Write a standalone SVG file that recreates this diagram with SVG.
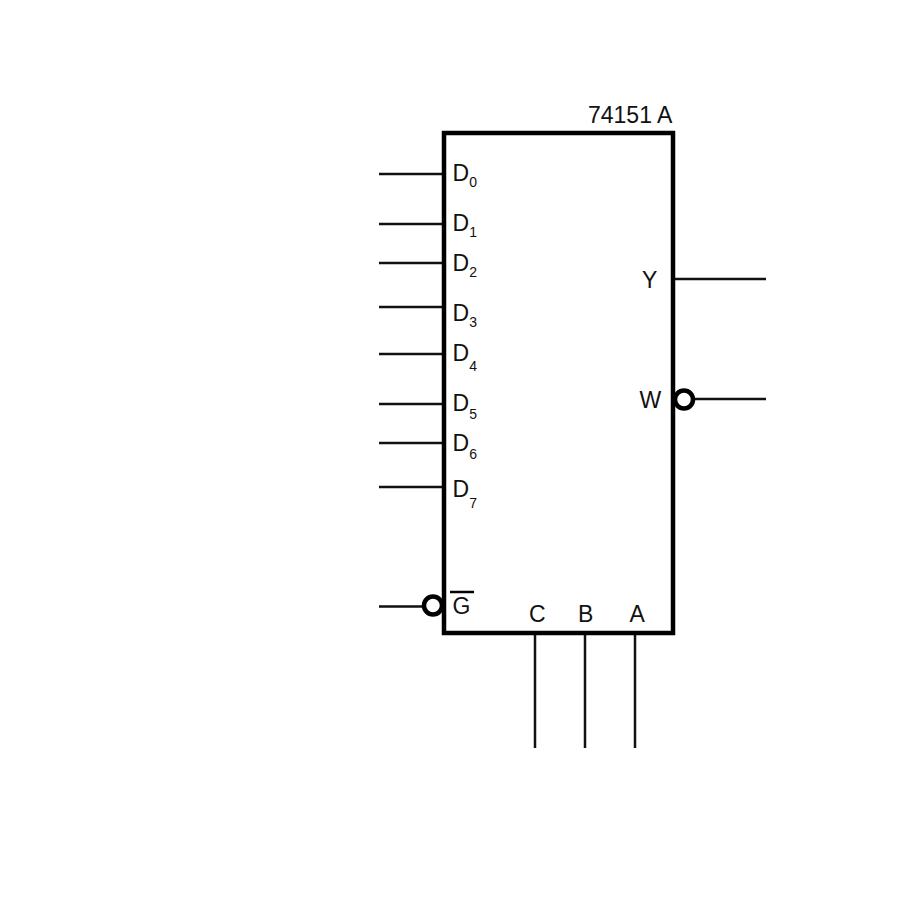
<svg xmlns="http://www.w3.org/2000/svg" width="900" height="900" viewBox="0 0 900 900">
<style>
text{font-family:"Liberation Sans",Arial,sans-serif;font-size:23px;fill:#111}
.s{font-size:14px}
.w{stroke:#111;stroke-width:2.5;fill:none}
.b{stroke:#000;stroke-width:4.500;fill:#fff}
</style>
<rect width="900" height="900" fill="#fff"/>
<g id="connectors">
<path class="w" d="M379 174H444M379 224H446M379 263H444M379 307H444M379 354H444M379 404H446M379 443H444M379 487H444M379 606.500H424M673 279H766M694 399H766M535 633V748M585 633V748M635 633V748"/>
</g>
<g id="chip">
<rect class="b" x="444" y="133" width="229" height="500"/>
<text x="588" y="123">74151 A</text>
</g>
<g id="d0"><text x="452.500" y="181">D<tspan class="s" dy="6">0</tspan></text></g>
<g id="d1"><text x="452.500" y="231">D<tspan class="s" dy="6">1</tspan></text></g>
<g id="d2"><text x="452.500" y="271">D<tspan class="s" dy="6">2</tspan></text></g>
<g id="d3"><text x="452.500" y="321">D<tspan class="s" dy="6">3</tspan></text></g>
<g id="d4"><text x="452.500" y="361">D<tspan class="s" dy="10">4</tspan></text></g>
<g id="d5"><text x="452.500" y="411">D<tspan class="s" dy="8">5</tspan></text></g>
<g id="d6"><text x="452.500" y="451">D<tspan class="s" dy="8">6</tspan></text></g>
<g id="d7"><text x="452.500" y="497">D<tspan class="s" dy="11">7</tspan></text></g>
<g id="g"><circle class="b" cx="433" cy="605.500" r="9"/><path d="M450 592H474" stroke="#000" stroke-width="2.500"/><text x="452.500" y="614">G</text></g>
<g id="y"><text x="642" y="288">Y</text></g>
<g id="w"><text x="639.500" y="408">W</text><circle class="b" cx="684" cy="399.500" r="9"/></g>
<g id="c"><text x="529" y="622">C</text></g>
<g id="b"><text x="578" y="622">B</text></g>
<g id="a"><text x="629.500" y="622">A</text></g>
</svg>
